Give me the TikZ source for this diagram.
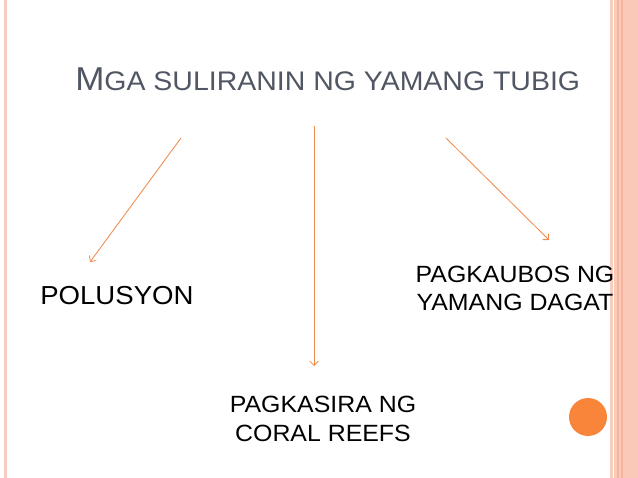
\documentclass[tikz,border=0pt]{standalone}
\usepackage{fontspec}
\setmainfont{Liberation Sans}[FakeStretch=1.06]
\usepackage{xcolor}
\usepackage{tikz}
\usetikzlibrary{arrows.meta}
\definecolor{titlegray}{RGB}{80,86,99}
\definecolor{arroworange}{RGB}{240,138,75}
\definecolor{dotorange}{RGB}{248,133,58}
\definecolor{bandpink}{RGB}{250,201,183}
\definecolor{stripepink}{RGB}{243,181,158}
\definecolor{linepink}{RGB}{246,205,191}

\begin{document}
\begin{tikzpicture}[x=0.025cm,y=-0.025cm,
		problem/.style={inner sep=0pt,align=center,font=\fontsize{16.7}{20.3}\selectfont},
		branch/.style={color=arroworange,line width=0.6pt,-{Straight Barb[length=3pt,width=6pt]}}]
			\useasboundingbox (0,0) rectangle (638,478);
			% border
			\fill[linepink] (3.5,0) rectangle (6.5,478);
			\fill[linepink] (610,0) rectangle (612.5,478);
			\fill[bandpink] (614,0) rectangle (638,478);
			\fill[stripepink] (617,0) rectangle (618.5,478);
			\fill[stripepink] (621,0) rectangle (622.5,478);
			\fill[dotorange] (588,417) circle (19);
			
			\coordinate (s1) at (181,138);
			\coordinate (s2) at (314,126);
			\coordinate (s3) at (446,138);
			\coordinate (t1) at (90,262);
			\coordinate (t2) at (314,366);
			\coordinate (t3) at (549,240);
			
			\node (title) at (75,91) [anchor=base west,inner sep=0pt,text=titlegray]{{\fontsize{23.5}{24}\selectfont M}{\fontsize{19.1}{20}\selectfont GA SULIRANIN NG YAMANG TUBIG}};
			\node (polusyon) at (40,305) [anchor=base west,inner sep=0pt,font=\fontsize{18.5}{20}\selectfont]{POLUSYON};
			\node (coral) at (323,441) [anchor=base,problem]{PAGKASIRA NG\\CORAL REEFS};
			\node (dagat) at (515,311) [anchor=base,problem]{PAGKAUBOS NG\\YAMANG DAGAT};
			
			\draw[branch] (s1) -- (t1);
			\draw[branch] (s2) -- (t2);
			\draw[branch] (s3) -- (t3);
		\end{tikzpicture}
\end{document}
